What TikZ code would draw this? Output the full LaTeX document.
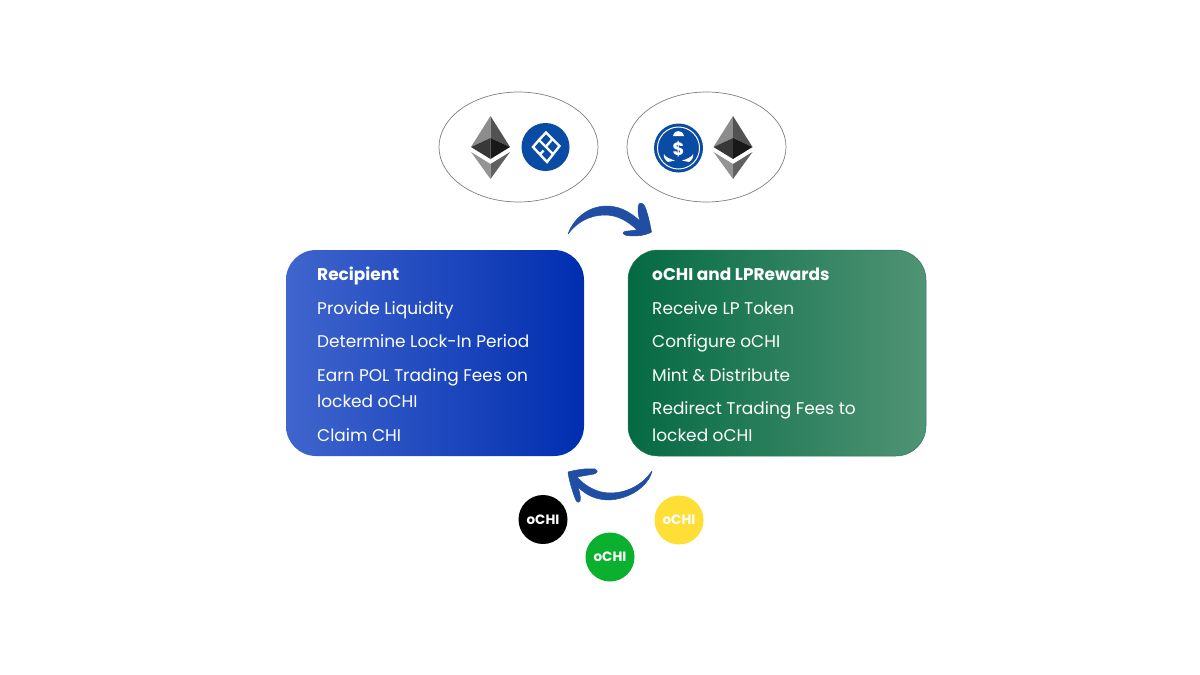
\documentclass[tikz,border=0pt]{standalone}
\usepackage{fontspec}
\usetikzlibrary{shapes.geometric}
\setmainfont{Poppins}
\definecolor{arrowblue}{HTML}{1F4EA3}
\definecolor{coinblue}{HTML}{0A4CA4}
\definecolor{ochigreen}{HTML}{0BB02E}
\definecolor{ochiyellow}{HTML}{FFDE35}
\definecolor{ringgray}{HTML}{808080}
\definecolor{blueL}{HTML}{4065CD}
\definecolor{blueR}{HTML}{002EB0}
\definecolor{greenL}{HTML}{046A44}
\definecolor{greenR}{HTML}{509474}
\definecolor{greenE}{HTML}{28785A}
\tikzset{
  x=1pt,y=-1pt,
  tokenring/.style={draw=ringgray,line width=0.7pt,ellipse,minimum width=159pt,minimum height=110pt,inner sep=0pt},
  panel/.style={rounded corners=30pt,line width=0.5pt},
  line/.style={anchor=base west,text=white,font=\fontsize{16.95}{18}\selectfont,inner sep=0pt},
  headline/.style={line,font=\fontsize{16.95}{18}\selectfont\bfseries},
  ochi/.style={circle,minimum size=49pt,inner sep=0pt,text=white,font=\fontsize{13.5}{14}\selectfont\bfseries},
  logo/.style={draw=white,line width=2.4pt,line join=miter},
  swoosh/.style={fill=arrowblue,draw=arrowblue,line width=0.5pt,line join=round},
}
\newcommand{\ethicon}[1]{%
  \begin{scope}[shift={(#1,147)}]
    \fill[color=black!45] (0,-31) -- (-19.5,0) -- (0,-9) -- cycle;
    \fill[color=black!68] (0,-31) -- (19.5,0) -- (0,-9) -- cycle;
    \fill[color=black!78] (-19.5,0) -- (0,-9) -- (0,12) -- cycle;
    \fill[color=black!90] (19.5,0) -- (0,-9) -- (0,12) -- cycle;
    \fill[color=black!42] (-19.5,5) -- (0,17) -- (0,32) -- cycle;
    \fill[color=black!62] (19.5,5) -- (0,17) -- (0,32) -- cycle;
  \end{scope}}
\begin{document}
\begin{tikzpicture}
\useasboundingbox (0,0) rectangle (1200,675);
\fill[white] (0,0) rectangle (1200,675);

% token pairs
\node[tokenring] (pairA) at (518.5,147) {};
\node[tokenring] (pairB) at (706.5,147) {};
\ethicon{490.5}
\ethicon{733}

% left coin
\fill[coinblue] (545.5,147) circle (24);
\draw[logo] (539,140) -- (546,132.5) -- (559.5,146) -- (547,162) -- (533,147) -- (539,140) -- (553,154);
\draw[logo] (552.5,139) -- (546,146.5);
\draw[logo] (543.5,150.5) -- (540,154.5);

% right coin
\fill[coinblue] (678.5,148) circle (24.5);
\draw[white,line width=1pt] (678.5,148) circle (21);
\node[text=white,inner sep=0pt,font=\fontsize{18}{19}\selectfont\bfseries] (dollar) at (678.5,149) {\$};
\fill[white] (673,136) .. controls (674,132.5) and (676,131) .. (678,131) .. controls (681,131) and (683,132.5) .. (684,136) -- cycle;
\fill[white] (664,154) .. controls (665,157) and (670,159) .. (675,160.5) -- (668,162) .. controls (665,160) and (663,157) .. (664,154) -- cycle;
\fill[white] (693,154) .. controls (692,157) and (687,159) .. (682,160.5) -- (689,162) .. controls (692,160) and (694,157) .. (693,154) -- cycle;

% panels
\path[panel,left color=blueL,right color=blueR] (286,250) rectangle (584,456);
\path[panel,draw=greenE,left color=greenL,right color=greenR] (628,250) rectangle (926,456);

\node[headline] (r0) at (317,280) {Recipient};
\node[line] (r1) at (317,314) {Provide Liquidity};
\node[line] (r2) at (317,347) {Determine Lock-In Period};
\node[line] (r3) at (317,381) {Earn POL Trading Fees on};
\node[line] (r4) at (317,407) {locked oCHI};
\node[line] (r5) at (317,441) {Claim CHI};

\node[headline] (g0) at (652,280) {oCHI and LPRewards};
\node[line] (g1) at (652,314) {Receive LP Token};
\node[line] (g2) at (652,347) {Configure oCHI};
\node[line] (g3) at (652,381) {Mint \& Distribute};
\node[line] (g4) at (652,414) {Redirect Trading Fees to};
\node[line] (g5) at (652,441) {locked oCHI};

% curved arrows
\path[swoosh] (568,234) .. controls (575,215) and (592,206) .. (606,206)
  .. controls (620,206) and (630,212) .. (640,221)
  .. controls (638,215) and (637,208) .. (639,204)
  .. controls (641,202) and (644,204) .. (645,207)
  .. controls (648,214) and (650,224) .. (651.5,232)
  .. controls (645,236) and (632,237) .. (625,235)
  .. controls (621,233) and (624,231) .. (628,231)
  -- (637,230)
  .. controls (628,221) and (617,215) .. (605,215)
  .. controls (590,215) and (577,222) .. (568,234) -- cycle;
\path[swoosh] (652,471) .. controls (650,482) and (635,498) .. (610,500)
  .. controls (597,500) and (587,496) .. (578,487)
  .. controls (580,493) and (581,498) .. (580,501)
  .. controls (578,504) and (576,501) .. (575,498)
  .. controls (572,490) and (569,480) .. (568,472)
  .. controls (575,470) and (587,468) .. (595,469)
  .. controls (599,471) and (597,473) .. (594,474)
  -- (577,477)
  .. controls (585,486) and (597,493) .. (610,493)
  .. controls (628,493) and (643,484) .. (652,471) -- cycle;

% oCHI tokens
\node[ochi,fill=black] (t1) at (543,519.5) {oCHI};
\node[ochi,fill=ochigreen] (t2) at (610,557) {oCHI};
\node[ochi,fill=ochiyellow] (t3) at (679,520) {oCHI};
\end{tikzpicture}
\end{document}
